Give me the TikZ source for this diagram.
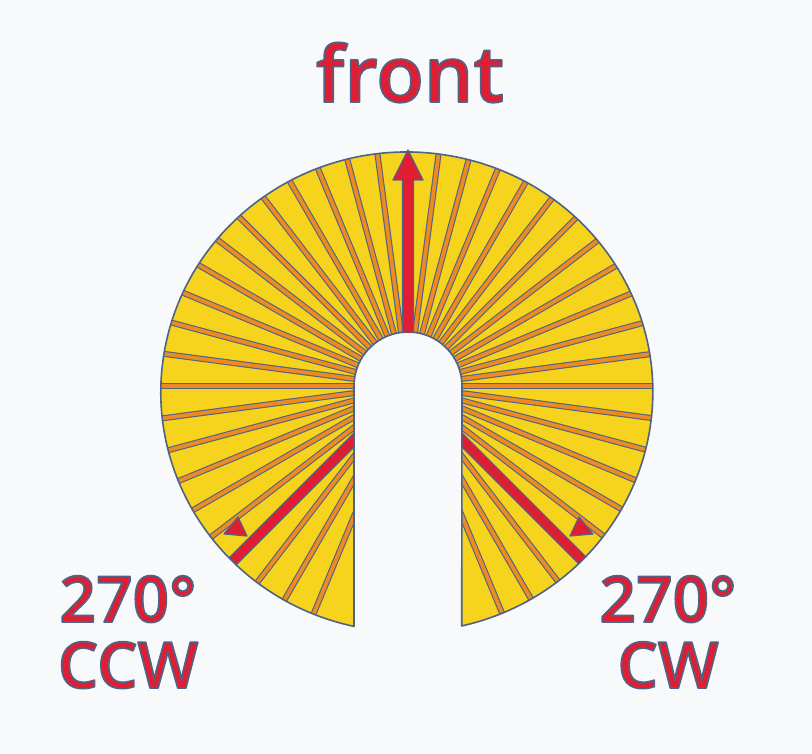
\documentclass[tikz,border=0pt]{standalone}
\usepackage{fontspec}
\setmainfont{Open Sans}
\IfFontExistsTF{Open Sans SemiBold}{%
  \newfontfamily\labelfont{Open Sans SemiBold}}{%
  \IfFontExistsTF{Open Sans Semibold}{%
    \newfontfamily\labelfont{Open Sans Semibold}}{%
    \newfontfamily\labelfont{Open Sans}}}

\definecolor{bgpaper}{HTML}{F8F9FA}
\definecolor{discyellow}{HTML}{F6D31C}
\definecolor{riborange}{HTML}{EF8A22}
\definecolor{edgeslate}{HTML}{4E6385}
\definecolor{arrowred}{HTML}{DF1E33}

% Red text with a slate outline (fill, then stroke)
\newcommand\Outlined[1]{%
  \special{pdf:literal direct 2 Tr 1.7 w 1 j 0.306 0.388 0.522 RG}#1%
  \special{pdf:literal direct 0 Tr}}

\begin{document}
\begin{tikzpicture}[
    % Environment Config
    x=1pt, y=1pt,
    Rib/.style={% Style for the radial ribs
      draw=edgeslate,
      line width=6pt,
      postaction={draw=riborange, line width=3.8pt}
    },
    Shaft/.style={% Style for the side arrow shafts
      draw=edgeslate,
      line width=11pt,
      postaction={draw=arrowred, line width=8.5pt}
    },
    Head/.style={% Style for arrow heads
      fill=arrowred,
      draw=edgeslate,
      line width=1.2pt,
      line join=round
    },
    Label/.style={% Style for the red texts
      text=arrowred,
      inner sep=0pt,
      font=\labelfont\fontsize{64}{66}\selectfont
    }
  ]

  % Disc with the slot cut out from below
  \def\DiscPath{(354,127.6)
      arc[start angle=257.6, end angle=-77.1, x radius=246pt, y radius=240pt]
      -- (462,368)
      arc[start angle=0, end angle=180, radius=54pt]
      -- cycle}

  % Paper
  \fill[bgpaper] (0,0) rectangle (812,754);
  \useasboundingbox (0,0) rectangle (812,754);

  % Centre of the slot arc
  \coordinate (C) at (408,368);

  \fill[discyellow] \DiscPath;

  \begin{scope}
    \clip \DiscPath;
    %===Ribs, every 7.5 degrees===
    \foreach \k in {-21,...,21}{
      \ifnum\k=0 \else\ifnum\k=18 \else\ifnum\k=-18 \else
        \draw[Rib] (C) -- ++({90-7.5*\k}:330);
      \fi\fi\fi
    }
    %===Side shafts===
    \draw[Shaft] (C) -- ++(225:330) coordinate (CCW end);
    \draw[Shaft] (C) -- ++(-45:330) coordinate (CW end);
  \end{scope}

  \draw[edgeslate, line width=1.6pt, line join=round] \DiscPath;

  %===Front arrow===
  \draw[Head]
  (402.5,421.7)
      -- (402.5,574) -- (393,574)
      -- (408,604) coordinate (Front tip)
      -- (423,574) -- (413.5,574)
      -- (413.5,421.7);

  %===Side heads===
  \draw[Head] (224,220) -- (238,237) -- (247,218) -- cycle;
  \draw[Head] (593,220) -- (579,237) -- (570,218) -- cycle;

  % Texts
  \node[Label, font=\labelfont\fontsize{78}{78}\selectfont, anchor=base]
      (Front) at (410,652) {\Outlined{front}};
  \node[Label, align=center, anchor=base]
      (CCW) at (128,66) {\Outlined{270°}\\\Outlined{CCW}};
  \node[Label, align=center, anchor=base]
      (CW) at (668,66) {\Outlined{270°}\\\Outlined{CW}};

\end{tikzpicture}
\end{document}
